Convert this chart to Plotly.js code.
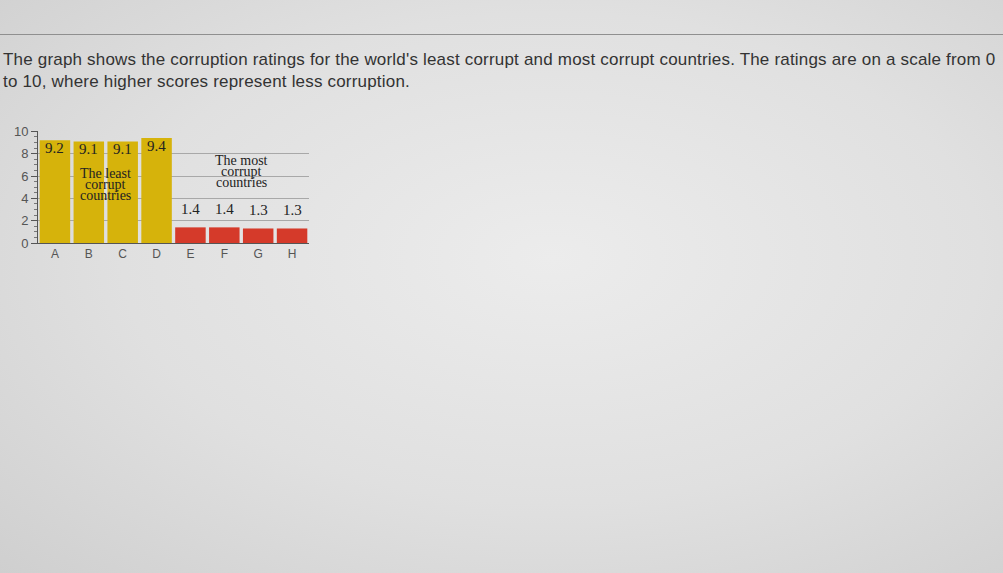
<!DOCTYPE html>
<html>
<head>
<meta charset="utf-8">
<script src="https://cdn.plot.ly/plotly-3.0.1.min.js"></script>
<style>
  body { margin: 0; width: 1003px; height: 573px; overflow: hidden;
         background: radial-gradient(ellipse at 55% 45%, #ececec 0%, #e0e0e0 55%, #cfcfcf 100%);
         font-family: "Liberation Sans", Arial, sans-serif; }
  #rule { position: absolute; left: 0; top: 34px; width: 1003px; height: 1px; background: #8f8f8f; }
  #question { position: absolute; left: 3px; top: 49px; width: 1000px; font-size: 17px;
              letter-spacing: 0.19px; line-height: 22px; color: #333; }
  #graph { position: absolute; left: 0; top: 0; }
</style>
</head>
<body>
<div id="rule"></div>
<div id="question">The graph shows the corruption ratings for the world's least corrupt and most corrupt countries. The ratings are on a scale from 0 to 10, where higher scores represent less corruption.</div>
<div id="graph"></div>
<script>
let countries = ['A', 'B', 'C', 'D', 'E', 'F', 'G', 'H'];
let ratings = [9.2, 9.1, 9.1, 9.4, 1.4, 1.4, 1.3, 1.3];
let groups = ['least', 'least', 'least', 'least', 'most', 'most', 'most', 'most'];
let yTicks = [0, 2, 4, 6, 8, 10];
let leastLines = ['The least', 'corrupt', 'countries'];
let mostLines = ['The most', 'corrupt', 'countries'];

let yellow = '#d6b30b';
let red = '#d53a2a';
let serif = 'Liberation Serif, serif';

let barColors = groups.map(g => g === 'least' ? yellow : red);

let bars = {
    x: countries,
    y: ratings,
    type: 'bar',
    marker: { color: barColors },
    hoverinfo: 'none'
};

// value labels: inside the top for the tall bars, above the short ones
let valueLabels = countries.map(function(c, i) {
    let least = groups[i] === 'least';
    return {
        x: c,
        y: ratings[i],
        text: ratings[i].toFixed(1),
        showarrow: false,
        yanchor: least ? 'top' : 'bottom',
        yshift: least ? 2 : 8,
        font: { family: serif, size: 15, color: '#222' }
    };
});

// group captions, one annotation per line so the lines can sit tight
function caption(lines, x, y) {
    return lines.map(function(t, i) {
        return {
            x: x, y: y, text: t, showarrow: false,
            yshift: -i * 11,
            font: { family: serif, size: 14, color: '#222' }
        };
    });
}

let layout = {
    width: 1003,
    height: 573,
    margin: { l: 38, r: 694, t: 131, b: 330 },
    paper_bgcolor: 'rgba(0,0,0,0)',
    plot_bgcolor: 'rgba(0,0,0,0)',
    bargap: 0.1,
    showlegend: false,
    font: { family: 'Liberation Sans, Arial, sans-serif', size: 12, color: '#555' },
    xaxis: {
        type: 'category',
        showgrid: false,
        showline: true,
        linecolor: '#555',
        linewidth: 1,
        ticks: '',
        tickfont: { size: 12, color: '#555' }
    },
    yaxis: {
        range: [0, 10.03],
        tickvals: yTicks,
        showgrid: true,
        gridcolor: '#a8a8a8',
        gridwidth: 1,
        zeroline: false,
        showline: true,
        linecolor: '#555',
        ticks: 'outside',
        ticklen: 6,
        tickcolor: '#555',
        minor: { dtick: 0.5, ticks: 'outside', ticklen: 3, tickcolor: '#777', showgrid: false },
        tickfont: { size: 13, color: '#555' }
    },
    annotations: valueLabels
        .concat(caption(leastLines, 1.5, 6.2))
        .concat(caption(mostLines, 5.5, 7.4))
};

Plotly.newPlot('graph', [bars], layout, { staticPlot: true });
</script>
</body>
</html>
